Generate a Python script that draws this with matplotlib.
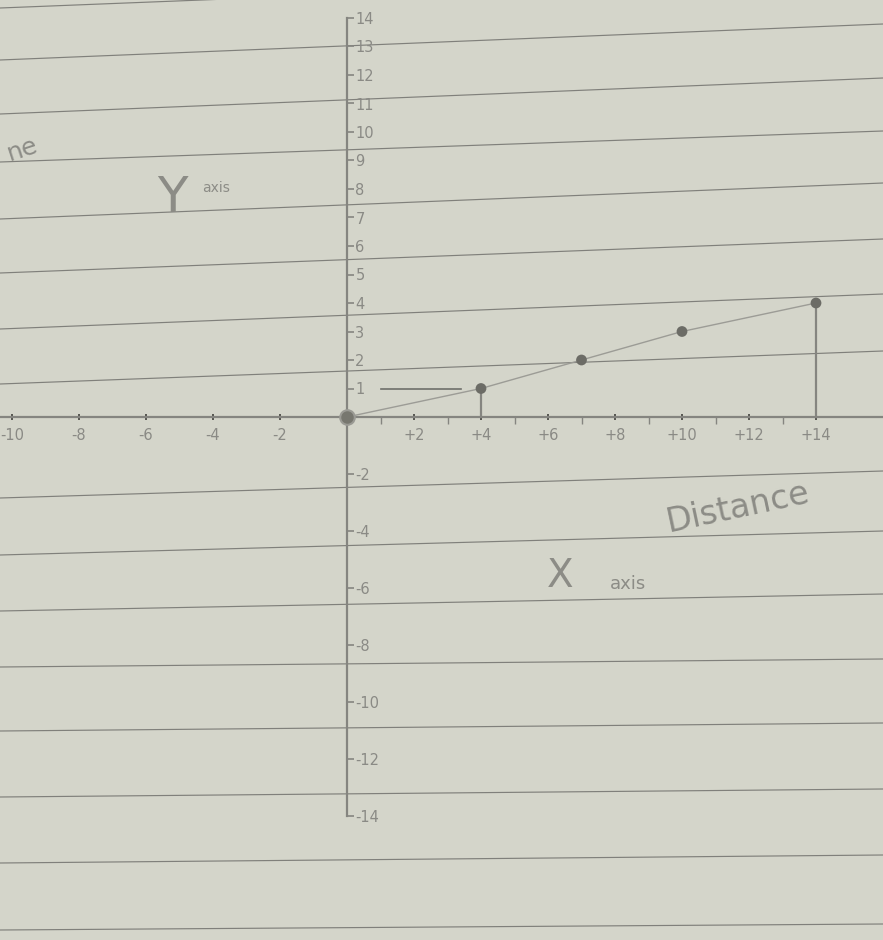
import matplotlib
matplotlib.use("Agg")
import matplotlib.pyplot as plt
from matplotlib.ticker import FixedLocator, FixedFormatter

# ---- data ----
point_x = [0, 4, 7, 10, 14]
point_y = [0, 1, 2, 3, 4]

x_major = [-12, -10, -8, -6, -4, -2, 2, 4, 6, 8, 10, 12, 14]
x_labels = ["-12", "-10", "-8", "-6", "-4", "-2", "+2", "+4", "+6", "+8", "+10", "+12", "+14"]
x_minor = [1, 3, 5, 7, 9, 11, 13]

y_major = list(range(1, 15)) + [-2, -4, -6, -8, -10, -12, -14]
y_labels = [str(v) for v in range(1, 15)] + ["-2", "-4", "-6", "-8", "-10", "-12", "-14"]

drop_x = [4, 14]          # vertical drop lines from the axis to the points
drop_top = [1, 4]
guide_x = [1.0, 3.4]      # short horizontal guide at y = 1
guide_y = [1, 1]

# ruled notebook lines: pixel y at left edge, pixel y at right edge
rule_left = [8, 60, 114, 162, 219, 273, 329, 384, 498, 555, 611, 667, 731, 797, 863, 930]
rule_right = [-27, 24, 78, 131, 183, 239, 294, 351, 471, 531, 594, 659, 723, 789, 855, 924]

W, H = 883, 940
paper = "#d4d5ca"
pencil = "#858580"
pencil_light = "#9c9c96"

fig = plt.figure(figsize=(W / 100, H / 100), dpi=100, facecolor=paper)
ax = fig.add_axes([0, 0, 1, 1], facecolor=paper)

# scale: origin at pixel (347, 417)
sx, sy = 33.5, 28.5
ox, oy = 347, 417
ax.set_xlim(-ox / sx, (W - ox) / sx)
ax.set_ylim(-(H - oy) / sy, oy / sy)

# paper rulings
for yl, yr in zip(rule_left, rule_right):
    ax.plot([0, 1], [1 - yl / H, 1 - yr / H], transform=ax.transAxes,
            color="#80807b", lw=0.85, zorder=0)

# axes through the origin
for s in ("top", "left"):
    ax.spines[s].set_visible(False)
ax.spines["right"].set_position(("data", 0))
ax.spines["bottom"].set_position(("data", 0))
ax.spines["right"].set_bounds(-14, 14)
ax.spines["bottom"].set_bounds(-ox / sx, (W - ox) / sx)
for s in ("right", "bottom"):
    ax.spines[s].set_color(pencil)
    ax.spines[s].set_linewidth(1.6)

ax.yaxis.tick_right()
ax.yaxis.set_major_locator(FixedLocator(y_major))
ax.yaxis.set_major_formatter(FixedFormatter(y_labels))
ax.tick_params(axis="y", direction="out", length=5, width=1.2, color=pencil,
               labelcolor="#8a8a85", labelsize=10.5, pad=1)

ax.xaxis.set_major_locator(FixedLocator(x_major))
ax.xaxis.set_major_formatter(FixedFormatter(x_labels))
ax.xaxis.set_minor_locator(FixedLocator(x_minor))
ax.tick_params(axis="x", which="major", direction="inout", length=4, width=1.4,
               color="#55554f", labelcolor="#8a8a85", labelsize=10.5, pad=6)
ax.tick_params(axis="x", which="minor", direction="out", length=5, width=1.0,
               color=pencil)

# guide and drop lines
ax.plot(guide_x, guide_y, color="#6f6f6a", lw=1.2, zorder=2)
for xv, yt in zip(drop_x, drop_top):
    ax.plot([xv, xv], [0, yt], color=pencil, lw=1.6, zorder=2)

# connecting line and points
ax.plot(point_x, point_y, color=pencil_light, lw=1.0, zorder=3)
ax.scatter(point_x[1:], point_y[1:], s=60, color="#6c6c66", zorder=4,
           edgecolors="none")
ax.scatter(point_x[:1], point_y[:1], s=110, color="#77776f", zorder=4,
           edgecolors="#9a9a94", linewidths=1.5)

# handwritten annotations
txt = dict(color="#8c8c86", transform=ax.transAxes, family="DejaVu Sans")
ax.text(172 / W, 1 - 198 / H, "Y", fontsize=36, ha="center", va="center", **txt)
ax.text(216 / W, 1 - 188 / H, "axis", fontsize=10, ha="center", va="center", **txt)
ax.text(560 / W, 1 - 576 / H, "X", fontsize=28, ha="center", va="center", **txt)
ax.text(628 / W, 1 - 584 / H, "axis", fontsize=13, ha="center", va="center", **txt)
ax.text(738 / W, 1 - 508 / H, "Distance", fontsize=24, ha="center", va="center",
        rotation=12, **txt)
ax.text(22 / W, 1 - 150 / H, "ne", fontsize=18, ha="center", va="center",
        rotation=18, **txt)

fig.savefig("out.png", dpi=100, facecolor=paper)
